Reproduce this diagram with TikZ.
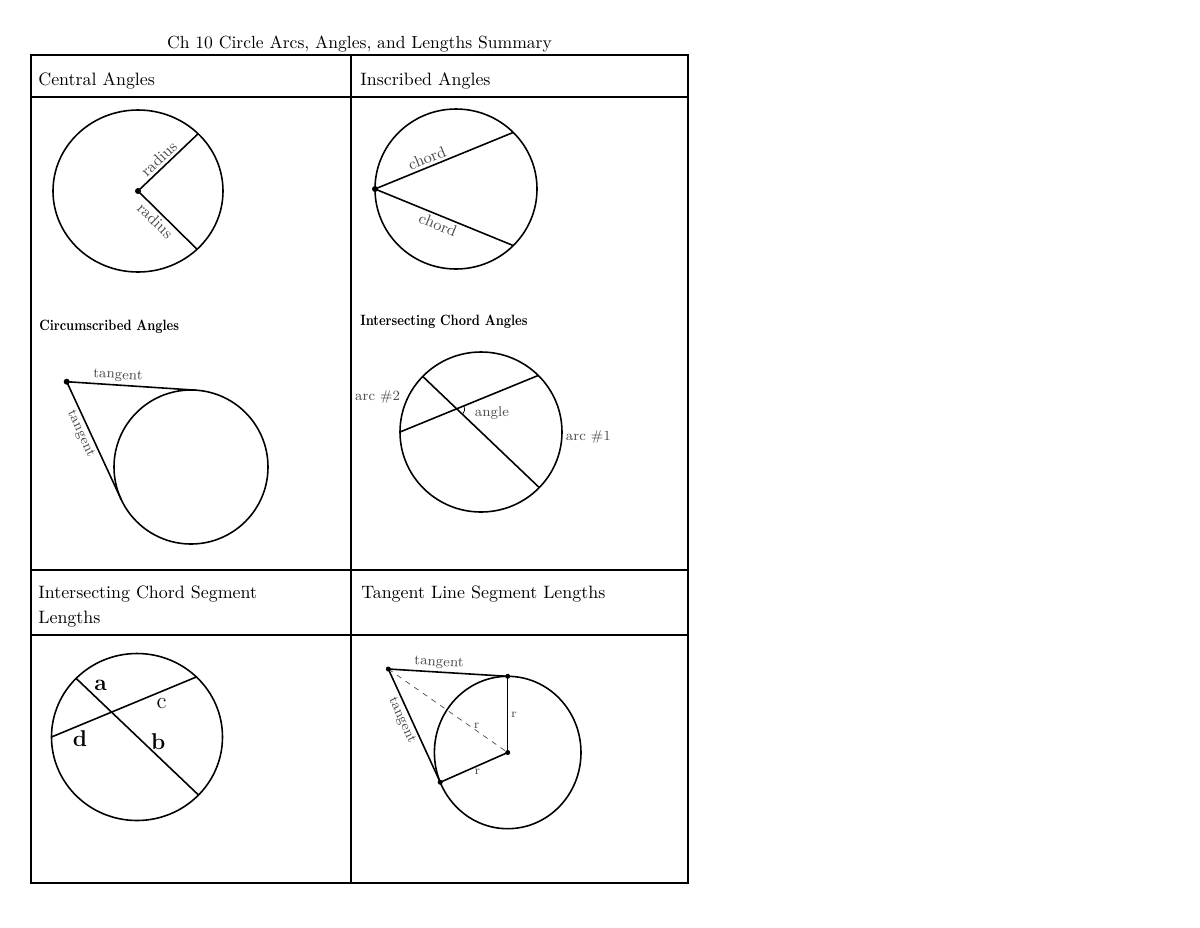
\documentclass[tikz,border=0pt]{standalone}
\usepackage{tikz}
\begin{document}
\begin{tikzpicture}[x=0.02cm, y=-0.02cm,
  tab/.style={line width=1.1pt},
  kreis/.style={line width=0.9pt},
  head/.style={anchor=base west, inner sep=0pt, font=\fontsize{10.2}{14}\selectfont},
  klein/.style={anchor=base west, inner sep=0pt, xscale=.82, font=\fontsize{8.5}{10}\selectfont\bfseries},
  lbl/.style={text=black!70, inner sep=1.5pt, font=\small},
  buchst/.style={inner sep=0pt, font=\fontsize{13}{15}\selectfont\bfseries}]
  \useasboundingbox (0,0) rectangle (1200,927);
  % Titel
  \node[anchor=base, inner sep=0pt] (titel) at (359.5,48.5) {Ch 10 Circle Arcs, Angles, and Lengths Summary};
  % Tabelle
  \draw[tab] (31,55) rectangle (688,883);
  \draw[tab] (351,55) -- (351,883);
  \draw[tab] (31,97) -- (688,97);
  \draw[tab] (31,570) -- (688,570);
  \draw[tab] (31,635) -- (688,635);
  % Kopfzeilen
  \node[head] (kopfA) at (38,85) {Central Angles};
  \node[head] (kopfB) at (360,85) {Inscribed Angles};
  \node[head, anchor=north west, align=left] (kopfC) at (38,585.8) {Intersecting Chord Segment\\Lengths};
  \node[head] (kopfD) at (361,598.3) {Tangent Line Segment Lengths};
  \node[klein] (kopfE) at (39,330) {Circumscribed Angles};
  \node[klein] (kopfF) at (360,325) {Intersecting Chord Angles};
  % Zentriwinkel
  \coordinate (o1) at (138,191);
  \draw[kreis] (o1) ellipse[x radius=85, y radius=81];
  \path (o1) ++(-45:85 and 81) coordinate (r1a);
  \path (o1) ++(46:85 and 81) coordinate (r1b);
  \draw[kreis] (o1) -- node[lbl, sloped, above, pos=.45] {radius} (r1a);
  \draw[kreis] (o1) -- node[lbl, sloped, below, pos=.4] {radius} (r1b);
  \fill (o1) circle[radius=3];
  % Umfangswinkel
  \coordinate (o2) at (456,189);
  \draw[kreis] (o2) ellipse[x radius=81, y radius=80];
  \path (o2) ++(180:81 and 80) coordinate (v2);
  \path (o2) ++(-45:81 and 80) coordinate (s2a);
  \path (o2) ++(45:81 and 80) coordinate (s2b);
  \draw[kreis] (v2) -- node[lbl, sloped, above, pos=.4] {chord} (s2a);
  \draw[kreis] (v2) -- node[lbl, sloped, below, pos=.48] {chord} (s2b);
  \fill (v2) circle[radius=3];
  % Tangentenwinkel
  \coordinate (o3) at (191,467);
  \coordinate (p3) at (66.7,381.7);
  \draw[kreis] (o3) circle[radius=77];
  \path (o3) ++(274:77) coordinate (t3a);
  \path (o3) ++(155:77) coordinate (t3b);
  \draw[kreis] (p3) -- node[lbl, sloped, above, pos=.39, font=\footnotesize] {tangent} (t3a);
  \draw[kreis] (p3) -- node[lbl, sloped, below, pos=.41, font=\footnotesize] {tangent} (t3b);
  \fill (p3) circle[radius=3];
  % Sehnenwinkel
  \coordinate (o4) at (481,432);
  \draw[kreis] (o4) ellipse[x radius=81, y radius=80];
  \path (o4) ++(224:81 and 80) coordinate (a4);
  \path (o4) ++(44:81 and 80) coordinate (b4);
  \path (o4) ++(180:81 and 80) coordinate (c4);
  \path (o4) ++(-45:81 and 80) coordinate (d4);
  \draw[kreis] (a4) -- (b4);
  \draw[kreis] (c4) -- (d4);
  \coordinate (s4) at (intersection of a4--b4 and c4--d4);
  \draw[thin] (s4) ++(43.7:8) arc[start angle=43.7, end angle=-22.1, radius=8];
  \node[lbl, anchor=west, font=\footnotesize] (winkel) at (472,413) {angle};
  \node[lbl, anchor=east, font=\footnotesize] (bogenB) at (403,397) {arc \#2};
  \node[lbl, anchor=west, font=\footnotesize] (bogenA) at (563,437) {arc \#1};
  % Sehnenabschnitte
  \coordinate (o5) at (137,737);
  \draw[kreis] (o5) ellipse[x radius=85.5, y radius=83.5];
  \path (o5) ++(224.6:85.5 and 83.5) coordinate (a5);
  \path (o5) ++(44:85.5 and 83.5) coordinate (b5);
  \path (o5) ++(180:85.5 and 83.5) coordinate (c5);
  \path (o5) ++(-46:85.5 and 83.5) coordinate (d5);
  \draw[kreis] (a5) -- (b5);
  \draw[kreis] (c5) -- (d5);
  \node[buchst] (la) at (100.7,685) {a};
  \node[buchst, font=\fontsize{13}{15}\selectfont] (lc) at (161.7,703.3) {c};
  \node[buchst] (ld) at (80,738.3) {d};
  \node[buchst] (lb) at (158.3,741.7) {b};
  % Tangentenabschnitte
  \coordinate (o6) at (507.7,752.5);
  \coordinate (q6) at (388.3,669);
  \draw[kreis] (o6) ellipse[x radius=73.3, y radius=76.2];
  \path (o6) ++(-90:73.3 and 76.2) coordinate (t6a);
  \path (o6) ++(157:73.3 and 76.2) coordinate (t6b);
  \draw[kreis] (q6) -- node[lbl, sloped, above, pos=.42, font=\footnotesize] {tangent} (t6a);
  \draw[kreis] (q6) -- node[lbl, sloped, below, pos=.42, font=\footnotesize] {tangent} (t6b);
  \draw[kreis] (t6a) -- node[lbl, right, font=\scriptsize] {r} (o6);
  \draw[kreis] (t6b) -- node[lbl, below, pos=.55, font=\scriptsize] {r} (o6);
  \draw[thin, dashed, black!70] (q6) -- node[lbl, above, pos=.74, inner sep=1pt, font=\scriptsize] {r} (o6);
  \foreach \p in {q6,t6a,t6b,o6}
    \fill (\p) circle[radius=2.5];
\end{tikzpicture}
\end{document}
